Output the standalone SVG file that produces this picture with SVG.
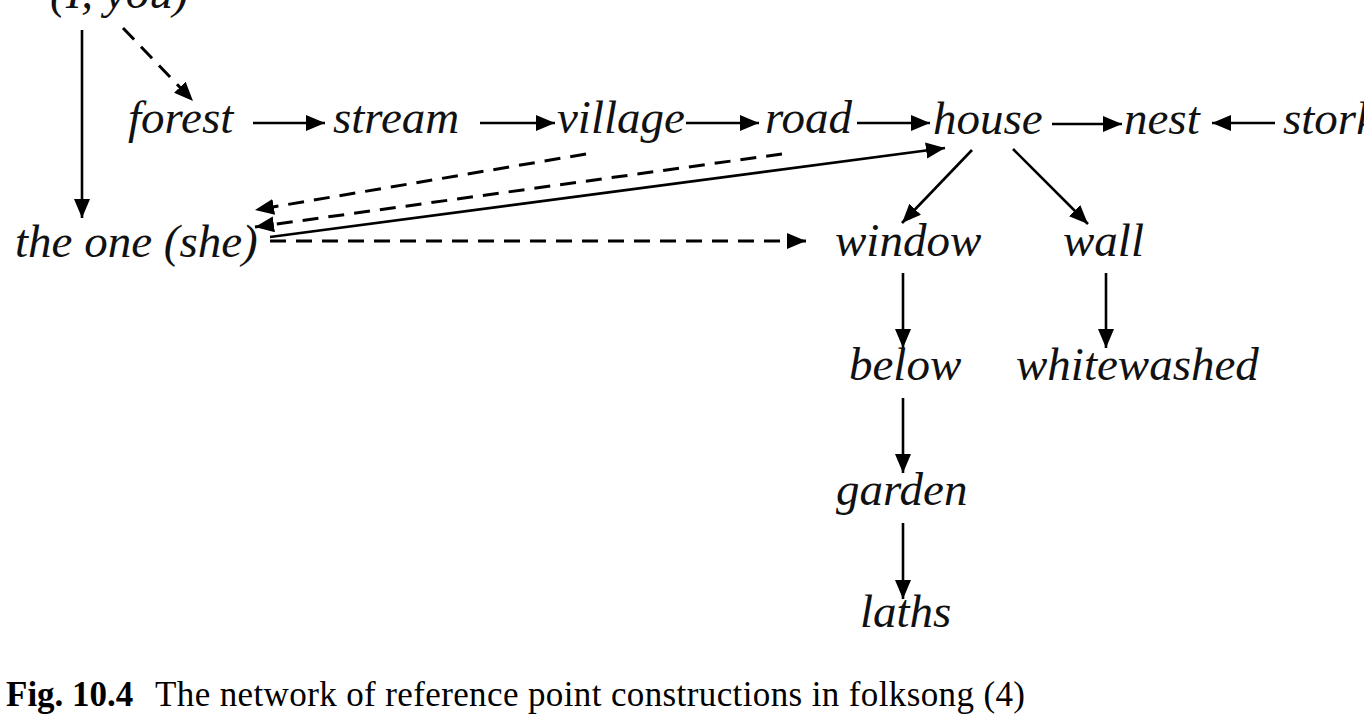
<svg xmlns="http://www.w3.org/2000/svg" width="1364" height="728" viewBox="0 0 1364 728">
<style>
.n{font-family:"Liberation Serif","Times New Roman",serif;font-style:italic;font-size:47px;fill:#111}
.c{font-family:"Liberation Serif","Times New Roman",serif;font-size:35px;fill:#000}
.s{stroke:#000;stroke-width:2.6;fill:none;marker-end:url(#ah)}
.d{stroke:#000;stroke-width:3;fill:none;stroke-dasharray:16 10;marker-end:url(#ah)}
</style>
<defs>
<marker id="ah" markerUnits="userSpaceOnUse" markerWidth="21" markerHeight="17" refX="19" refY="8" orient="auto" viewBox="0 0 21 17">
<path d="M0,0 L19,8 L0,16 z" fill="#000"/>
</marker>
</defs>
<rect width="1364" height="728" fill="#fff"/>
<g id="connectors">
<line class="s" x1="82" y1="30" x2="82" y2="218"/>
<line class="d" x1="123" y1="28" x2="193" y2="101"/>
<line class="s" x1="253" y1="123" x2="325" y2="123"/>
<line class="s" x1="480" y1="123" x2="555" y2="123"/>
<line class="s" x1="686" y1="123" x2="759" y2="123"/>
<line class="s" x1="857" y1="123" x2="930" y2="123"/>
<line class="s" x1="1052" y1="124" x2="1122" y2="124"/>
<line class="s" x1="1275" y1="123" x2="1212" y2="123"/>
<line class="s" x1="972" y1="150" x2="902" y2="223"/>
<line class="s" x1="1013" y1="149" x2="1088" y2="224"/>
<line class="s" x1="903" y1="273" x2="903" y2="348"/>
<line class="s" x1="1106" y1="273" x2="1106" y2="348"/>
<line class="s" x1="903" y1="398" x2="903" y2="473"/>
<line class="s" x1="903" y1="523" x2="903" y2="599"/>
<line class="s" x1="270" y1="237" x2="945" y2="148"/>
<line class="d" x1="586" y1="154" x2="255" y2="210"/>
<line class="d" x1="782" y1="154" x2="255" y2="227"/>
<line class="d" x1="270" y1="241" x2="806" y2="241"/>
</g>
<g id="n-iyou"><text class="n" x="50" y="8">(I, you)</text></g>
<g id="n-forest"><text class="n" x="128" y="133">forest</text></g>
<g id="n-stream"><text class="n" x="333" y="133">stream</text></g>
<g id="n-village"><text class="n" x="557" y="133">village</text></g>
<g id="n-road"><text class="n" x="765" y="133">road</text></g>
<g id="n-house"><text class="n" x="933" y="134">house</text></g>
<g id="n-nest"><text class="n" x="1124" y="134">nest</text></g>
<g id="n-stork"><text class="n" x="1283" y="134">stork</text></g>
<g id="n-theone"><text class="n" x="15" y="257">the one (she)</text></g>
<g id="n-window"><text class="n" x="835" y="256">window</text></g>
<g id="n-wall"><text class="n" x="1063" y="256">wall</text></g>
<g id="n-below"><text class="n" x="849" y="380">below</text></g>
<g id="n-whitewashed"><text class="n" x="1016" y="380">whitewashed</text></g>
<g id="n-garden"><text class="n" x="836" y="505">garden</text></g>
<g id="n-laths"><text class="n" x="860" y="627">laths</text></g>
<g id="caption"><text class="c" x="6" y="706"><tspan font-weight="bold">Fig. 10.4</tspan><tspan x="155" textLength="870" lengthAdjust="spacing">The network of reference point constructions in folksong (4)</tspan></text></g>
</svg>
